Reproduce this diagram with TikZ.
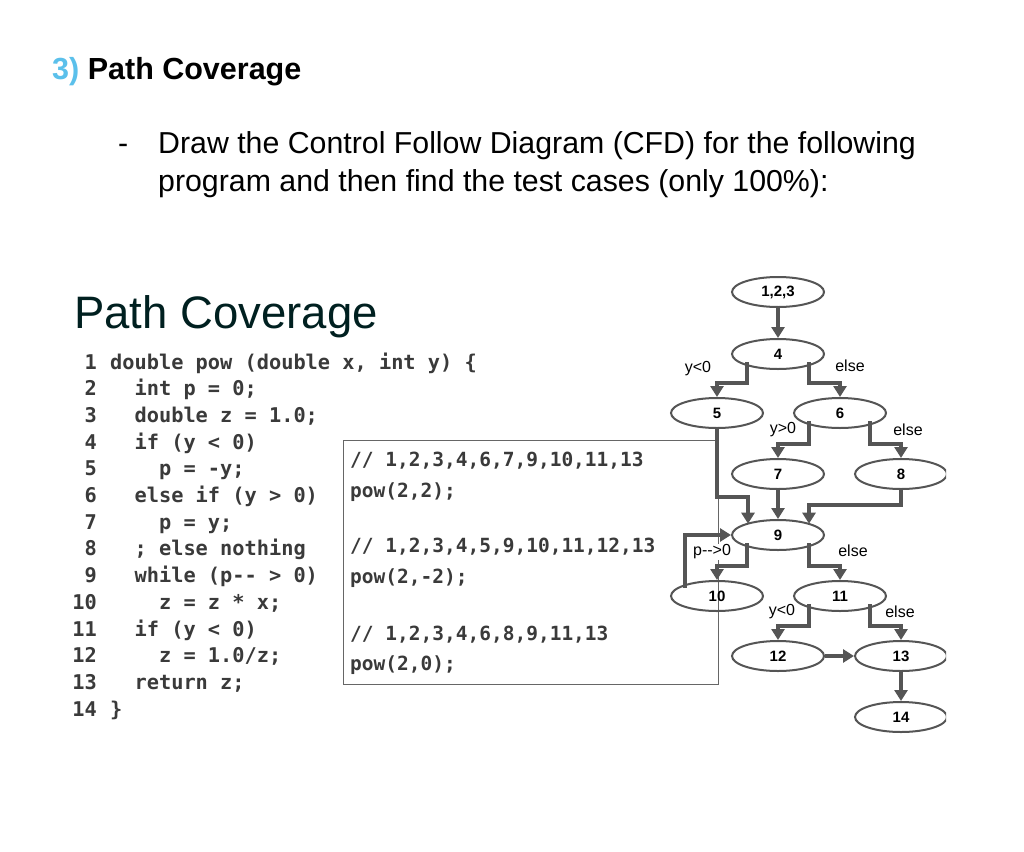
\documentclass[tikz,border=0pt]{standalone}
\usepackage{fontspec}
\setmainfont{Liberation Sans}
\newfontfamily\codefont{DejaVu Sans Mono}
\usetikzlibrary{arrows.meta,shapes.geometric}
\definecolor{edge}{HTML}{555555}
\definecolor{codec}{HTML}{3A3A3A}
\definecolor{titleblue}{HTML}{5BC0EB}
\tikzset{x=1pt,y=-1pt,
  cfn/.style={ellipse,draw=edge,line width=2pt,minimum width=92pt,minimum height=30pt,inner sep=0pt,font=\bfseries\fontsize{15}{15}\selectfont},
  arr/.style={draw=edge,line width=3.4pt,-{Triangle[length=11pt,width=13pt]}},
  lbl/.style={font=\fontsize{16}{16}\selectfont},
  code/.style={anchor=base west,inner sep=0pt,text=codec,font=\codefont\bfseries\fontsize{20.3}{21}\selectfont},
  boxt/.style={anchor=base west,inner sep=0pt,text=codec,font=\codefont\bfseries\fontsize{19.5}{20}\selectfont},
  num/.style={anchor=base east,inner sep=0pt,text=codec,font=\codefont\bfseries\fontsize{20.3}{21}\selectfont}}
\begin{document}
\begin{tikzpicture}
\useasboundingbox (0,0) rectangle (1024,851);
\fill[white] (0,0) rectangle (1024,851);
\node[anchor=base west,inner sep=0pt,font=\bfseries\fontsize{30.5}{30}\selectfont] (title) at (52,79) {\textcolor{titleblue}{3)} Path Coverage};
\node[anchor=base west,inner sep=0pt,font=\fontsize{30.3}{30}\selectfont] (dash) at (118,153) {-};
\node[anchor=base west,inner sep=0pt,font=\fontsize{30.3}{30}\selectfont] (q1) at (158,153) {Draw the Control Follow Diagram (CFD) for the following};
\node[anchor=base west,inner sep=0pt,font=\fontsize{30.3}{30}\selectfont] (q2) at (158,191) {program and then find the test cases (only 100\%):};
\node[anchor=base west,inner sep=0pt,text=black!75!teal,font=\fontsize{45.5}{45}\selectfont] (pc) at (74,328) {Path Coverage};
% code
\foreach \n/\t [count=\i] in {1/{double pow (double x, int y) \{},2/{\ \ int p = 0;},3/{\ \ double z = 1.0;},4/{\ \ if (y < 0)},5/{\ \ \ \ p = -y;},6/{\ \ else if (y > 0)},7/{\ \ \ \ p = y;},8/{\ \ ; else nothing},9/{\ \ while (p-{}- > 0)},10/{\ \ \ \ z = z * x;},11/{\ \ if (y < 0)},12/{\ \ \ \ z = 1.0/z;},13/{\ \ return z;},14/{\}}}{
  \node[num] (n\i) at (97,{369+26.7*(\i-1)}) {\n};
  \node[code] (c\i) at (110,{369+26.7*(\i-1)}) {\t};
}
\draw[edge!90,line width=1pt] (343,440) rectangle (718,684);
\node[boxt] (t1) at (350,466) {// 1,2,3,4,6,7,9,10,11,13};
\node[boxt] (t2) at (350,497) {pow(2,2);};
\node[boxt] (t3) at (350,552) {// 1,2,3,4,5,9,10,11,12,13};
\node[boxt] (t4) at (350,583) {pow(2,-2);};
\node[boxt] (t5) at (350,640) {// 1,2,3,4,6,8,9,11,13};
\node[boxt] (t6) at (350,670) {pow(2,0);};
% graph
\begin{scope}
\clip (600,260) rectangle (946,760);
\node[cfn] (a) at (778,292) {1,2,3};
\node[cfn] (b4) at (778,354) {4};
\node[cfn] (b5) at (717,413) {5};
\node[cfn] (b6) at (840,413) {6};
\node[cfn] (b7) at (778,474) {7};
\node[cfn] (b8) at (901,474) {8};
\node[cfn] (b9) at (778,535) {9};
\node[cfn] (b10) at (717,596) {10};
\node[cfn] (b11) at (840,596) {11};
\node[cfn] (b12) at (778,656) {12};
\node[cfn] (b13) at (901,656) {13};
\node[cfn] (b14) at (901,717) {14};
\end{scope}
\draw[arr] (a) -- (b4);
\draw[arr] (b4.south west-|747,0) ++(0,-3) |- (717,383) -- (b5);
\draw[arr] (b4.south east-|809,0) ++(0,-3) |- (840,383) -- (b6);
\draw[arr] (b6.south west-|809,0) ++(0,-3) |- (778,444) -- (b7);
\draw[arr] (b6.south east-|870,0) ++(0,-3) |- (901,444) -- (b8);
\draw[arr] (b5) |- (748,497) -- (b9.north west-|748,0);
\draw[arr] (b7) -- (b9);
\draw[arr] (b8) |- (809,505) -- (b9.north east-|809,0);
\draw[arr] (b9.south west-|747,0) ++(0,-3) |- (717,566) -- (b10);
\draw[arr] (b9.south east-|809,0) ++(0,-3) |- (840,566) -- (b11);
\draw[arr] (b10.north west-|685,0) ++(0,3) |- (b9.west);
\draw[arr] (b11.south west-|809,0) ++(0,-3) |- (778,626) -- (b12);
\draw[arr] (b11.south east-|870,0) ++(0,-3) |- (901,626) -- (b13);
\draw[arr] (b12) -- (b13);
\draw[arr] (b13) -- (b14);
\node[lbl] (l1) at (698,369) {y<0};
\node[lbl] (l2) at (850,366) {else};
\node[lbl] (l3) at (783,430) {y>0};
\node[lbl] (l4) at (908,430) {else};
\node[lbl,fill=white,inner sep=1pt] (l5) at (712,552) {p-{}->0};
\node[lbl] (l6) at (853,551) {else};
\node[lbl] (l7) at (782,612) {y<0};
\node[lbl] (l8) at (900,612) {else};
\end{tikzpicture}
\end{document}
